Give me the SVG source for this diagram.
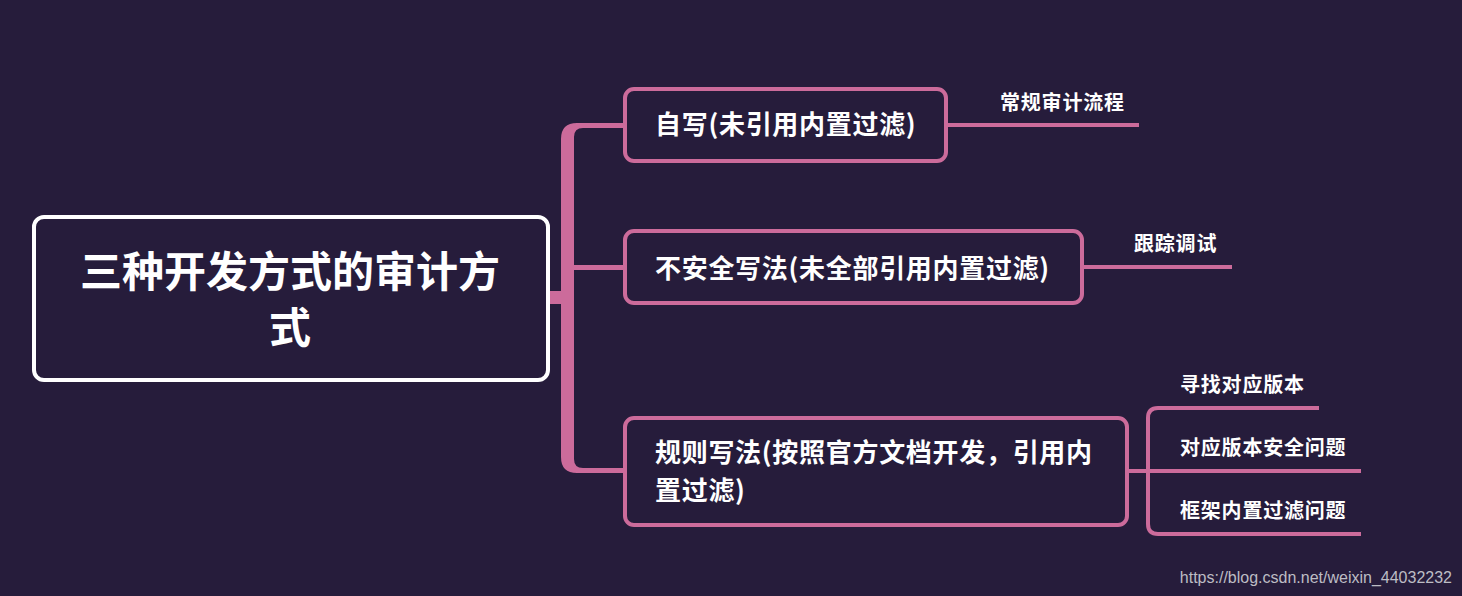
<svg xmlns="http://www.w3.org/2000/svg" width="1462" height="596" viewBox="0 0 1462 596">
<style>
.bg{fill:#261c3b}
.node{fill:#261c3b;stroke:#cc6b9b;stroke-width:4}
.root{fill:#261c3b;stroke:#ffffff;stroke-width:4}
.t{font-family:"Noto Sans CJK SC","Noto Sans",sans-serif;font-weight:700;fill:#ffffff}
.t1{font-size:26px;letter-spacing:0.7px}
.t0{font-size:42px}
.lab{font-size:20px;letter-spacing:0.8px}
.ln{stroke:#cc6b9b;stroke-width:4;fill:none}
.fillp{fill:#cc6b9b}
.wm{font-family:"Liberation Sans",Arial,sans-serif;font-size:16px;fill:#bdbdc4}
</style>
<rect class="bg" x="0" y="0" width="1462" height="596"/>
<g id="connectors">
<rect class="fillp" x="547" y="291" width="16" height="13"/>
<path class="fillp" d="M625 123 H577 Q561 123 561 139 V457 Q561 473 577 473 H625 V468 H583 Q574 468 574 459 V137 Q574 128 583 128 H625 Z"/>
<rect class="fillp" x="572" y="265" width="53" height="5"/>
<path class="ln" d="M947 125 H1139"/>
<path class="ln" d="M1083 267 H1232"/>
<path class="ln" d="M1128 471 H1148"/>
<path class="ln" d="M1319 408 H1158 Q1148 408 1148 418 V524 Q1148 534 1158 534 H1361"/>
<path class="ln" d="M1148 471 H1361"/>
</g>
<g id="root">
<rect class="root" x="34" y="217" width="514" height="163" rx="10"/>
<text class="t t0" x="290" y="287" text-anchor="middle">三种开发方式的审计方</text>
<text class="t t0" x="290" y="343" text-anchor="middle">式</text>
</g>
<g id="node1">
<rect class="node" x="625" y="89" width="321" height="72" rx="9"/>
<text class="t t1" x="655" y="134">自写(未引用内置过滤)</text>
</g>
<g id="node2">
<rect class="node" x="625" y="231" width="457" height="72" rx="9"/>
<text class="t t1" x="655" y="278">不安全写法(未全部引用内置过滤)</text>
</g>
<g id="node3">
<rect class="node" x="625" y="418" width="502" height="107" rx="9"/>
<text class="t t1" x="655" y="462">规则写法(按照官方文档开发，引用内</text>
<text class="t t1" x="655" y="500">置过滤)</text>
</g>
<g id="leaf1"><text class="t lab" x="1000" y="110">常规审计流程</text></g>
<g id="leaf2"><text class="t lab" x="1134" y="251">跟踪调试</text></g>
<g id="leaf3"><text class="t lab" x="1180" y="392">寻找对应版本</text></g>
<g id="leaf4"><text class="t lab" x="1180" y="455">对应版本安全问题</text></g>
<g id="leaf5"><text class="t lab" x="1180" y="518">框架内置过滤问题</text></g>
<text class="wm" x="1452" y="583" text-anchor="end">https://blog.csdn.net/weixin_44032232</text>
</svg>
